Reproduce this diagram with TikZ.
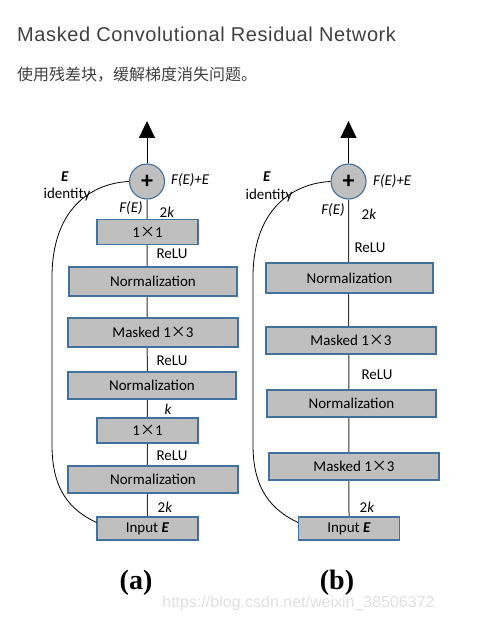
\documentclass[tikz,border=0pt]{standalone}
\usepackage{fontspec}
\setmainfont{Carlito}
\newfontfamily\titlefont{Liberation Sans}
\newfontfamily\headfont[LetterSpace=3]{Liberation Sans}
\newfontfamily\cjk{Noto Sans CJK SC}
\newfontfamily\capfont{Liberation Serif}
\usetikzlibrary{arrows.meta,backgrounds}
\definecolor{boxgray}{HTML}{BFBFBF}
\definecolor{boxedge}{HTML}{41719C}
\definecolor{titlegray}{HTML}{404040}
\newcommand{\tms}{{\cjk ×}}
\newcommand{\bE}{\textbf{\textit{E}}}

\begin{document}
\begin{tikzpicture}[x=1pt,y=-1pt]
\tikzstyle{graybox} = [rectangle, draw=boxedge, line width=1.1pt, fill=boxgray, inner sep=0pt, text centered, font=\fontsize{15}{17}\selectfont]
\tikzstyle{sumnode} = [circle, draw=boxedge, line width=1.1pt, fill=boxgray, minimum size=35pt, inner sep=0pt]
\tikzstyle{lbl} = [inner sep=0pt, font=\fontsize{15}{17}\selectfont]
\tikzstyle{arrow} = [line width=1pt, -{Triangle[width=16pt,length=17pt]}]
\tikzstyle{noarrow} = [line width=1pt, black!80]
\tikzstyle{skip} = [line width=0.8pt]

\useasboundingbox (0,0) rectangle (479,628);

%heading
\node (title) [anchor=base west, inner sep=0pt, text=titlegray, font=\headfont\fontsize{20}{22}\selectfont] at (17,42) {Masked Convolutional Residual Network};
\node (sub) [anchor=base west, inner sep=0pt, text=titlegray, font=\cjk\fontsize{16}{18}\selectfont] at (17,81) {使用残差块，缓解梯度消失问题。};

%block (a)
\node (sumA) [sumnode] at (147,181.5) {\fontsize{24}{24}\selectfont\textbf{+}};
\node (cA1) [graybox, minimum width=101pt, minimum height=25pt] at (147.5,232) {1\tms1};
\node (nA1) [graybox, minimum width=168pt, minimum height=29pt] at (153,281.5) {Normalization};
\node (mA) [graybox, minimum width=170pt, minimum height=29pt] at (153,332.5) {Masked 1\tms3};
\node (nA2) [graybox, minimum width=168pt, minimum height=27pt] at (152,385.5) {Normalization};
\node (cA2) [graybox, minimum width=101pt, minimum height=25pt] at (147.5,430.5) {1\tms1};
\node (nA3) [graybox, minimum width=170pt, minimum height=27pt] at (153,479.5) {Normalization};
\node (inA) [graybox, minimum width=101pt, minimum height=23pt] at (147.5,528.5) {Input \bE};
\coordinate (topA) at (147,121);

%labels (a)
\node (eA) [lbl] at (65,177) {\bE};
\node (idA) [lbl] at (67,195) {identity};
\node (outA) [lbl, anchor=west] at (171,180) {\textit{F(E)+E}};
\node (fA) [lbl] at (131,208) {\textit{F(E)}};
\node (kA1) [lbl] at (167,212) {2\textit{k}};
\node (rA1) [lbl] at (172,254) {ReLU};
\node (rA2) [lbl] at (172,361) {ReLU};
\node (kA2) [lbl] at (168,409) {\textit{k}};
\node (rA3) [lbl] at (172,456) {ReLU};
\node (kA3) [lbl] at (165,507) {2\textit{k}};
\node (capA) [inner sep=0pt, font=\capfont\bfseries\fontsize{28}{30}\selectfont] at (136,583) {(a)};

%block (b)
\node (sumB) [sumnode] at (348.5,181.5) {\fontsize{24}{24}\selectfont\textbf{+}};
\node (nB1) [graybox, minimum width=167pt, minimum height=30pt] at (349.5,278) {Normalization};
\node (mB1) [graybox, minimum width=170pt, minimum height=27pt] at (351,340.5) {Masked 1\tms3};
\node (nB2) [graybox, minimum width=169pt, minimum height=27pt] at (351.5,403.5) {Normalization};
\node (mB2) [graybox, minimum width=170pt, minimum height=27pt] at (354,466.5) {Masked 1\tms3};
\node (inB) [graybox, minimum width=101pt, minimum height=23pt] at (349,528.5) {Input \bE};
\coordinate (topB) at (348.5,121);

%labels (b)
\node (eB) [lbl] at (267,177) {\bE};
\node (idB) [lbl] at (269,196) {identity};
\node (outB) [lbl, anchor=west] at (373,181) {\textit{F(E)+E}};
\node (fB) [lbl] at (333,210) {\textit{F(E)}};
\node (kB1) [lbl] at (369,214) {2\textit{k}};
\node (rB1) [lbl] at (370,248) {ReLU};
\node (rB2) [lbl] at (377,375) {ReLU};
\node (kB2) [lbl] at (367,507) {2\textit{k}};
\node (capB) [inner sep=0pt, font=\capfont\bfseries\fontsize{28}{30}\selectfont] at (337,583) {(b)};

\node (mark) [inner sep=0pt, text=black!12, font=\titlefont\fontsize{16}{18}\selectfont] at (298.5,603) {https://blog.csdn.net/weixin\_38506372};

%lines
\begin{scope}[on background layer]
\draw [noarrow] (inA.north) -- (sumA.south);
\draw [noarrow] (inB.north) -- (sumB.south);
\end{scope}
\draw [arrow] (sumA.north) -- (topA);
\draw [arrow] (sumB.north) -- (topB);

%identity skips
\draw [skip] (sumA.west) .. controls (95,183) and (53,205) .. (52,275) -- (52,445) .. controls (52,490) and (70,510) .. ([yshift=6pt]inA.west);
\draw [skip] (sumB.west) .. controls (297,183) and (254,205) .. (253,275) -- (253,445) .. controls (253,490) and (272,510) .. ([yshift=6pt]inB.west);
\end{tikzpicture}
\end{document}
